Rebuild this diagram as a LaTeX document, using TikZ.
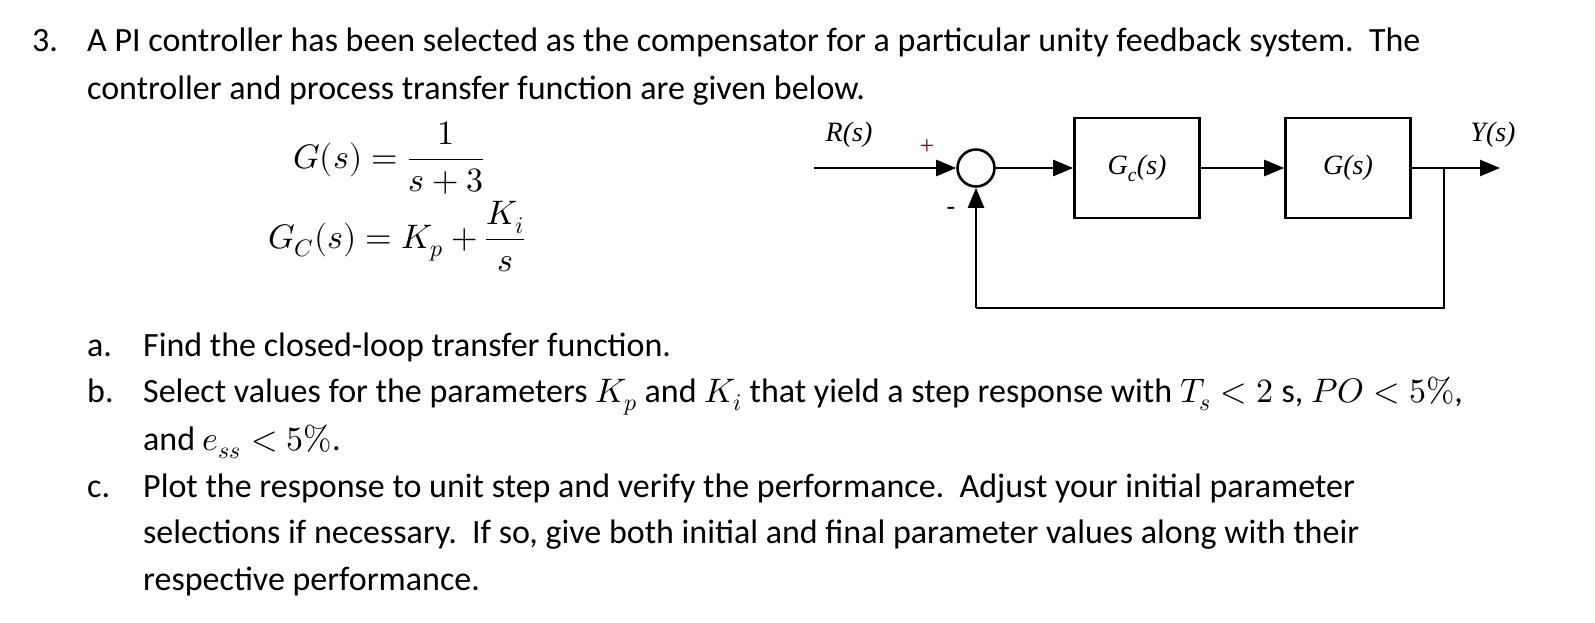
\documentclass[tikz,border=0pt]{standalone}
\usepackage{fontspec}
\usepackage{unicode-math}
\setmainfont{Carlito}
\setmathfont{Latin Modern Math}
\newfontfamily\tms{Liberation Serif}
\usetikzlibrary{arrows.meta}
\begin{document}
\begin{tikzpicture}[x=1pt,y=-1pt,
  txt/.style={anchor=base west,inner sep=0pt,font=\fontsize{34}{40}\selectfont},
  lbl/.style={inner sep=0pt,font=\tms\itshape\fontsize{28}{32}\selectfont},
  blk/.style={draw,line width=2.6pt,minimum width=125pt,minimum height=100pt,inner sep=0pt,font=\tms\itshape\fontsize{28}{32}\selectfont},
  sig/.style={line width=2.6pt},
  arr/.style={sig,-{Triangle[length=20pt,width=16pt]}}]
\useasboundingbox[fill=white] (0,0) rectangle (1595,623);
% text
\node[txt] (n3) at (32,52) {3.};
\node[txt] (l1) at (87,52) {A PI controller has been selected as the compensator for a particular unity feedback system.\ \ The};
\node[txt] (l2) at (87,100) {controller and process transfer function are given below.};
\node[txt] (eq1) at (293,168) {$\displaystyle G(s)=\frac{1}{s+3}$};
\node[txt] (eq2) at (268,248) {$\displaystyle G_C(s)=K_p+\frac{K_i}{s}$};
\node[txt] (ia) at (87,356) {a.};
\node[txt] (ta) at (143,356) {Find the closed-loop transfer function.};
\node[txt] (ib) at (87,402) {b.};
\node[txt] (tb) at (143,402) {Select values for the parameters $K_p$ and $K_i$ that yield a step response with $T_s<2\ \mathrm{s}$, $PO<5\%$,};
\node[txt] (tb2) at (143,450) {and $e_{ss}<5\%$.};
\node[txt] (ic) at (87,497) {c.};
\node[txt] (tc) at (143,497) {Plot the response to unit step and verify the performance.\ \ Adjust your initial parameter};
\node[txt] (tc2) at (143,543) {selections if necessary.\ \ If so, give both initial and final parameter values along with their};
\node[txt] (tc3) at (143,590) {respective performance.};
% block diagram
\coordinate (in) at (814,168);
\node[circle,draw,line width=2.6pt,minimum size=37pt,inner sep=0pt] (sum) at (976,168) {};
\node[blk] (gc) at (1137,168) {G\textsubscript{c}(s)};
\node[blk] (g) at (1348,168) {G(s)};
\coordinate (br) at (1444,168);
\coordinate (out) at (1500,168);
\coordinate (fb) at (1444,308);
\coordinate (fb2) at (976,308);
\draw[arr] (in) -- (sum.west);
\draw[arr] (sum.east) -- (gc.west);
\draw[arr] (gc.east) -- (g.west);
\draw[arr] (g.east) -- (out);
\draw[sig] (br) -- (fb) -- (fb2);
\draw[arr] (fb2) -- (sum.south);
\node[lbl] (r) at (849,135) {R(s)};
\node[lbl] (y) at (1493,135) {Y(s)};
\node[inner sep=0pt,font=\tms\fontsize{26}{30}\selectfont,text={rgb,255:red,120;green,20;blue,40}] (p) at (927,147) {+};
\node[inner sep=0pt,font=\tms\fontsize{26}{30}\selectfont] (m) at (951,211) {-};
\end{tikzpicture}
\end{document}
